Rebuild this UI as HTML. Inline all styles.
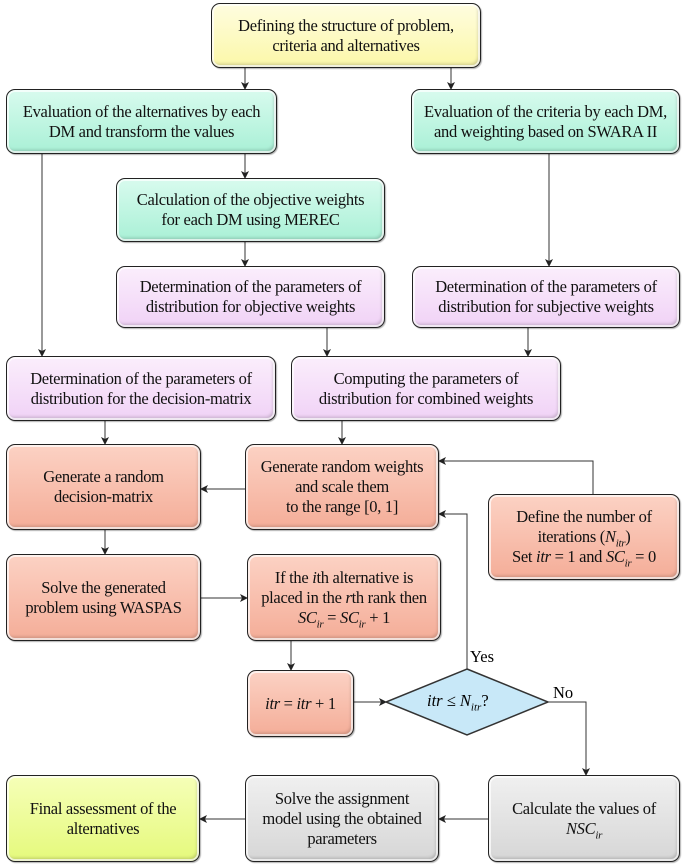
<!DOCTYPE html>
<html><head><meta charset="utf-8"><style>
body{margin:0;background:#fff;width:685px;height:866px;position:relative;overflow:hidden;font-family:"Liberation Serif",serif;}
.b{position:absolute;box-sizing:border-box;border:1.5px solid #222;border-radius:9px;display:flex;align-items:center;justify-content:center;text-align:center;font-size:16.5px;line-height:20px;color:#111;box-shadow:inset 0 0 0 2px rgba(255,255,255,.7),inset -2px -3px 3px rgba(0,0,0,.18),1px 1px 1px rgba(0,0,0,.3);letter-spacing:-0.3px;white-space:nowrap}
.b>span{display:block}
.y{background:linear-gradient(#fffde0,#fbf7a8)}
.g{background:linear-gradient(#d8fbee,#a9f0d6)}
.p{background:linear-gradient(#fbeefc,#f0d2f6)}
.s{background:linear-gradient(#fcd2c4,#f4ad98)}
.r{background:linear-gradient(#f0f0f0,#d6d6d6)}
.l{background:linear-gradient(#f6ffb8,#e5f97c)}
i{font-style:italic}
sub{font-size:11px;line-height:0}
svg{position:absolute;left:0;top:0}
.t{position:absolute;font-size:16.5px}
</style></head><body>
<svg width="685" height="866">
<defs><marker id="a" markerWidth="8" markerHeight="8" refX="7" refY="4" orient="auto" markerUnits="userSpaceOnUse"><path d="M0,0 L8,4 L0,8 L2,4Z" fill="#222"/></marker></defs>
<g stroke="#333" stroke-width="1" fill="none" marker-end="url(#a)">
<path d="M245,68V89"/><path d="M451,68V89"/>
<path d="M245,154V178"/><path d="M245,242V266"/>
<path d="M549,154V266"/><path d="M42,154V356"/>
<path d="M327,328V356"/><path d="M528,328V356"/>
<path d="M105,421V444"/><path d="M342,421V444"/>
<path d="M245,489H201"/>
<path d="M593,494V461H439"/>
<path d="M467,669V514H439"/>
<path d="M105,530V554"/><path d="M201,598H247"/>
<path d="M291,641V670"/><path d="M354,702H386"/>
<path d="M548,702H586V775"/>
<path d="M488,819H439"/><path d="M245,819H200"/>
</g>
<polygon points="467,669 548,702 467,735 386,702" fill="#c8e8f8" stroke="#333" stroke-width="1.5"/>
</svg>
<div class="b y" style="left:211px;top:3px;width:270px;height:65px"><span>Defining the structure of problem,<br>criteria and alternatives</span></div>
<div class="b g" style="left:6px;top:89px;width:271px;height:65px"><span>Evaluation of the alternatives by each<br>DM and transform the values</span></div>
<div class="b g" style="left:411px;top:89px;width:269px;height:65px"><span>Evaluation of the criteria by each DM,<br>and weighting based on SWARA II</span></div>
<div class="b g" style="left:116px;top:178px;width:269px;height:64px"><span>Calculation of the objective weights<br>for each DM using MEREC</span></div>
<div class="b p" style="left:116px;top:266px;width:269px;height:62px"><span>Determination of the parameters of<br>distribution for objective weights</span></div>
<div class="b p" style="left:412px;top:266px;width:268px;height:62px"><span>Determination of the parameters of<br>distribution for subjective weights</span></div>
<div class="b p" style="left:6px;top:356px;width:270px;height:65px"><span>Determination of the parameters of<br>distribution for the decision-matrix</span></div>
<div class="b p" style="left:291px;top:356px;width:270px;height:65px"><span>Computing the parameters of<br>distribution for combined weights</span></div>
<div class="b s" style="left:6px;top:444px;width:195px;height:86px"><span>Generate a random<br>decision-matrix</span></div>
<div class="b s" style="left:245px;top:444px;width:194px;height:86px"><span>Generate random weights<br>and scale them<br>to the range [0, 1]</span></div>
<div class="b s" style="left:488px;top:494px;width:192px;height:86px"><span>Define the number of<br>iterations (<i>N<sub>itr</sub></i>)<br>Set <i>itr</i> = 1 and <i>SC<sub>ir</sub></i> = 0</span></div>
<div class="b s" style="left:6px;top:554px;width:195px;height:87px"><span>Solve the generated<br>problem using WASPAS</span></div>
<div class="b s" style="left:247px;top:554px;width:194px;height:87px"><span>If the <i>i</i>th alternative is<br>placed in the <i>r</i>th rank then<br><i>SC<sub>ir</sub></i> = <i>SC<sub>ir</sub></i> + 1</span></div>
<div class="b s" style="left:247px;top:670px;width:107px;height:67px"><span><i>itr</i> = <i>itr</i> + 1</span></div>
<div class="t" style="left:427px;top:691px"><i>itr</i> ≤ <i>N<sub>itr</sub></i>?</div>
<div class="t" style="left:470px;top:647px">Yes</div>
<div class="t" style="left:553px;top:683px">No</div>
<div class="b l" style="left:6px;top:775px;width:194px;height:87px"><span>Final assessment of the<br>alternatives</span></div>
<div class="b r" style="left:245px;top:775px;width:194px;height:87px"><span>Solve the assignment<br>model using the obtained<br>parameters</span></div>
<div class="b r" style="left:488px;top:775px;width:192px;height:87px"><span>Calculate the values of<br><i>NSC<sub>ir</sub></i></span></div>
</body></html>
